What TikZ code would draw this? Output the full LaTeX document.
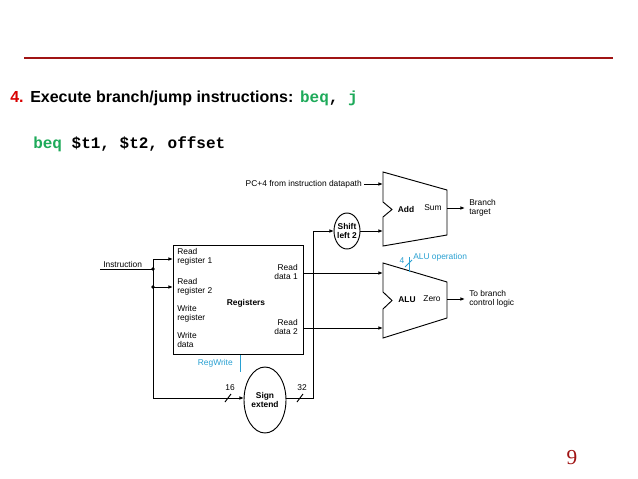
\documentclass[tikz,border=0pt]{standalone}
\usepackage{fontspec}
\setmainfont{Liberation Sans}
\newfontfamily\monof{Liberation Mono}
\newfontfamily\serf{Liberation Serif}
\usetikzlibrary{arrows.meta}
\definecolor{hdred}{RGB}{160,20,20}
\definecolor{cgreen}{RGB}{30,170,90}
\definecolor{ccyan}{RGB}{40,160,210}
\begin{document}
\begin{tikzpicture}[x=0.75pt,y=-0.75pt,
  lbl/.style={font=\fontsize{6.3}{6.9}\selectfont,inner sep=0pt,align=left},
  blbl/.style={lbl,font=\fontsize{6.3}{6.9}\selectfont\bfseries},
  wire/.style={line width=0.7pt},
  arr/.style={wire,-{Latex[length=3.5pt,width=2.8pt]}},
  cy/.style={lbl,text=ccyan}]
\useasboundingbox (0,0) rectangle (638,478);
\fill[white] (0,0) rectangle (638,478);
\draw[hdred,line width=2pt] (24,58) -- (613,58);
\node[anchor=base west,inner sep=0pt,font=\fontsize{12}{14}\selectfont\bfseries] (title) at (10,102)
 {\textcolor{red!85!black}{4.}\hspace{5pt}Execute branch/jump instructions:\hspace{5pt}{\monof\textcolor{cgreen}{beq}, \textcolor{cgreen}{j}}};
\node[anchor=base west,inner sep=0pt,font=\fontsize{12}{14}\selectfont\bfseries\monof] (code) at (33,148)
 {\textcolor{cgreen}{beq} \$t1, \$t2, offset};
\node[anchor=base,inner sep=0pt,font=\fontsize{16}{18}\selectfont\serf,text=hdred] (pg) at (572,464) {9};
% registers
\draw[wire] (173,245) rectangle (303,354);
\node[lbl,anchor=north west] (rr1) at (177,248) {Read\\register 1};
\node[lbl,anchor=north west] (rr2) at (177,278) {Read\\register 2};
\node[lbl,anchor=north west] (wr) at (177,305) {Write\\register};
\node[lbl,anchor=north west] (wd) at (177,332) {Write\\data};
\node[blbl] (regs) at (246,303) {Registers};
\node[lbl,anchor=north east,align=right] (rd1) at (298,264) {Read\\data 1};
\node[lbl,anchor=north east,align=right] (rd2) at (298,319) {Read\\data 2};
% instruction wiring
\node[lbl,anchor=base west] (instr) at (103,267) {Instruction};
\coordinate (ja) at (153,269);
\coordinate (jb) at (153,287);
\draw[wire] (100,269) -- (ja);
\fill (ja) circle (1.8);
\fill (jb) circle (1.8);
\draw[arr] (ja) |- (173,259);
\draw[arr] (jb) -- (173,287);
\draw[wire] (ja) -- (jb);
% sign extend
\draw[wire] (265,400) ellipse (21 and 33);
\node[blbl,align=center] (se) at (265,400) {Sign\\extend};
\draw[arr] (jb) |- (244,398);
\draw[wire] (225,402) -- (231,394);
\node[lbl] (n16) at (230,388) {16};
\draw[wire] (286,398) -- (313,398) -- (313,231);
\draw[wire] (297,402) -- (303,394);
\node[lbl] (n32) at (302,388) {32};
% shift left 2
\draw[wire] (347,231) ellipse (13 and 18);
\node[blbl,align=center] (sl) at (347,231) {Shift\\left 2};
\draw[arr] (313,231) -- (334,231);
% adder
\draw[wire] (383,172) -- (447,190) -- (447,235) -- (383,246) -- (383,217) -- (392,209.5) -- (383,202) -- cycle;
\node[blbl] (add) at (406,209) {Add};
\node[lbl] (sum) at (433,208) {Sum};
\node[lbl,anchor=east] (pc4) at (362,184) {PC+4 from instruction datapath};
\draw[arr] (pc4.east) ++(2,0) -- (383,184);
\draw[arr] (360,231) -- (383,231);
\draw[arr] (447,208) -- (465,208);
\node[lbl,anchor=west] (bt) at (469,208) {Branch\\target};
% ALU
\draw[wire] (383,263) -- (447,282) -- (447,318) -- (383,338) -- (383,309) -- (392,300.5) -- (383,292) -- cycle;
\node[blbl] (alu) at (407,300) {ALU};
\node[lbl] (zero) at (432,299) {Zero};
\draw[arr] (303,273) -- (383,273);
\draw[arr] (303,328) -- (383,328);
\draw[arr] (447,299) -- (465,299);
\node[lbl,anchor=west] (tb) at (469,299) {To branch\\control logic};
\draw[ccyan,wire] (409,257) -- (409,272);
\draw[ccyan,wire] (405,267) -- (412,260);
\node[cy] (n4) at (402,261) {4};
\node[cy,anchor=west] (aop) at (413,257) {ALU operation};
% regwrite
\draw[ccyan,wire] (240,355) -- (240,372);
\node[cy,anchor=east] (rw) at (233,363) {RegWrite};
\end{tikzpicture}
\end{document}
